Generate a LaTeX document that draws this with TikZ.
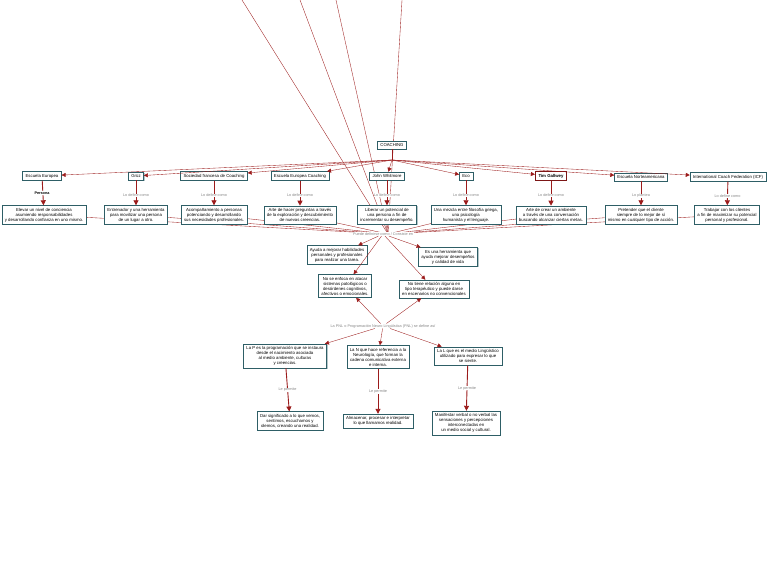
\documentclass[tikz,border=0pt]{standalone}
\usepackage{fontspec}
\setmainfont{Liberation Sans}
\usetikzlibrary{arrows.meta,shadows,calc,backgrounds}
\definecolor{bord}{HTML}{2E5E66}
\definecolor{arr}{HTML}{9B1B1B}
\definecolor{lnk}{HTML}{888888}
\tikzset{
 box/.style={draw=bord,line width=0.4pt,fill=white,align=center,font=\fontsize{4.3}{5}\selectfont,inner xsep=3pt,inner ysep=2.5pt,drop shadow={shadow xshift=0.9pt,shadow yshift=-0.9pt,fill=bord!70}},
 lab/.style={font=\fontsize{3.8}{4.4}\selectfont,text=lnk,fill=white,inner sep=0.5pt},
 con/.style={draw=arr,line width=0.35pt},
 ar/.style={con,-{Triangle[length=4pt,width=4pt]}},
 ar2/.style={con,line width=0.9pt,-{Triangle[length=5pt,width=5pt]}}
}
\begin{document}
\begin{tikzpicture}[x=1pt,y=-1pt]
\useasboundingbox (0,0) rectangle (768,578);
\node[box] (c) at (392,145) {COACHING};
\coordinate (cl) at (392,160);
\coordinate (m) at (388,234);
% row 1
\node[box] (a1) at (42,176) {Escuela Europea};
\node[box] (a2) at (136,176) {Grüz};
\node[box] (a3) at (214,176) {Sociedad francesa de Coaching};
\node[box] (a4) at (300,176) {Escuela Europea Coaching};
\node[box] (a5) at (387,176) {John Whitmore};
\node[box] (a6) at (466,176) {Eco};
\node[box,line width=1.2pt,draw=arr!80!black] (a7) at (551,176) {\textbf{Tim Gallwey}};
\node[box] (a8) at (641,177) {Escuela Norteamericana};
\node[box] (a9) at (728,177) {International Coach Federation (ICF)};
\foreach \i in {1,...,9}{\draw[ar] (cl) -- (a\i);}
\draw[con] (c) -- (cl);
% row 2
\node[box] (b1) at (44,215) {Elevar un nivel de conciencia\\asumiendo responsabilidades\\y desarrollando confianza en uno mismo.};
\node[box] (b2) at (136,215) {Entrenador y una herramienta\\para movilizar una persona\\de un lugar a otro.};
\node[box] (b3) at (214,215) {Acompañamiento a personas\\potenciando y desarrollando\\sus necesidades profesionales.};
\node[box] (b4) at (300,215) {Arte de hacer preguntas a través\\de la exploración y descubrimiento\\de nuevas creencias.};
\node[box] (b5) at (387,215) {Liberar un potencial de\\una persona a fin de\\incrementar su desempeño.};
\node[box] (b6) at (466,215) {Una mezcla entre filosofía griega,\\una psicología\\humanista y el lenguaje.};
\node[box] (b7) at (551,215) {Arte de crear un ambiente\\a través de una conversación\\buscando alcanzar ciertas metas.};
\node[box] (b8) at (641,215) {Pretender que el cliente\\siempre de lo mejor de sí\\mismo en cualquier tipo de acción.};
\node[box] (b9) at (727,215) {Trabajar con los clientes\\a fin de maximizar su potencial\\personal y profesional.};
\foreach \i in {1,...,9}{\draw[ar2] (a\i) -- (b\i);}
\node[font=\fontsize{3.8}{4.4}\selectfont\bfseries,fill=white,inner sep=0.5pt] at (42,193) {Persona};
\foreach \i in {2,...,7,9}{\node[lab] at ($(a\i)!0.5!(b\i)$) {Lo define como};}
\node[lab] at ($(a8)!0.5!(b8)$) {Lo plantea};
\begin{scope}[on background layer]
\foreach \i in {1,...,9}{\draw[con] (b\i) -- (m);}
\coordinate (t1) at (242,0); \coordinate (t2) at (300,0);
\coordinate (t3) at (336,0); \coordinate (t4) at (402,0);
\foreach \t in {t1,t2,t3,t4}{\draw[con] (\t) -- (m);}
\end{scope}
% middle
\node[lab] (ml) at (383,234) {Puede definirse como / Consiste en};
\node[box] (d1) at (337,255) {Ayuda a mejorar habilidades\\personales y profesionales\\para realizar una tarea.};
\node[box] (d2) at (448,257) {Es una herramienta que\\ayuda mejorar desempeños\\y calidad de vida};
\node[box] (d3) at (345,286) {No se enfoca en atacar\\sistemas patológicos o\\desórdenes cognitivos,\\afectivos o emocionales.};
\node[box] (d4) at (434,289) {No tiene relación alguna en\\tipo terapéutico y puede darse\\en escenarios no convencionales};
\draw[ar] (ml) -- (d1); \draw[ar] (ml) -- (d2);
\draw[ar] (ml) -- (d3); \draw[ar] (ml) -- (d4);
\node[lab] (pl) at (383,326) {La PNL o Programación Neuro Lingüística (PNL) se define así};
\draw[ar] (pl) -- (d3); \draw[ar] (pl) -- (d4);
% bottom
\node[box] (e1) at (285,356) {La P es la programación que se instaura\\desde el nacimiento asociada\\al medio ambiente, culturas\\y creencias.};
\node[box] (e2) at (378,357) {La N que hace referencia a la\\Neurología, que forman la\\cadena comunicativa externa\\e interna.};
\node[box] (e3) at (468,356) {La L que es el medio Lingüístico\\utilizado para expresar lo que\\se siente.};
\draw[ar] (pl) -- (e1); \draw[ar] (pl) -- (e2); \draw[ar] (pl) -- (e3);
\node[box] (f1) at (290,421) {Dar significado a lo que vemos,\\sentimos, escuchamos y\\olemos, creando una realidad.};
\node[box] (f2) at (378,421) {Almacenar, procesar e interpretar\\lo que llamamos realidad.};
\node[box] (f3) at (466,423) {Manifestar verbal o no verbal las\\sensaciones y percepciones\\interconectadas en\\un medio social y cultural.};
\foreach \i in {1,2,3}{\draw[ar2] (e\i) -- (f\i) node[lab,midway]{Le permite};}
\end{tikzpicture}
\end{document}
